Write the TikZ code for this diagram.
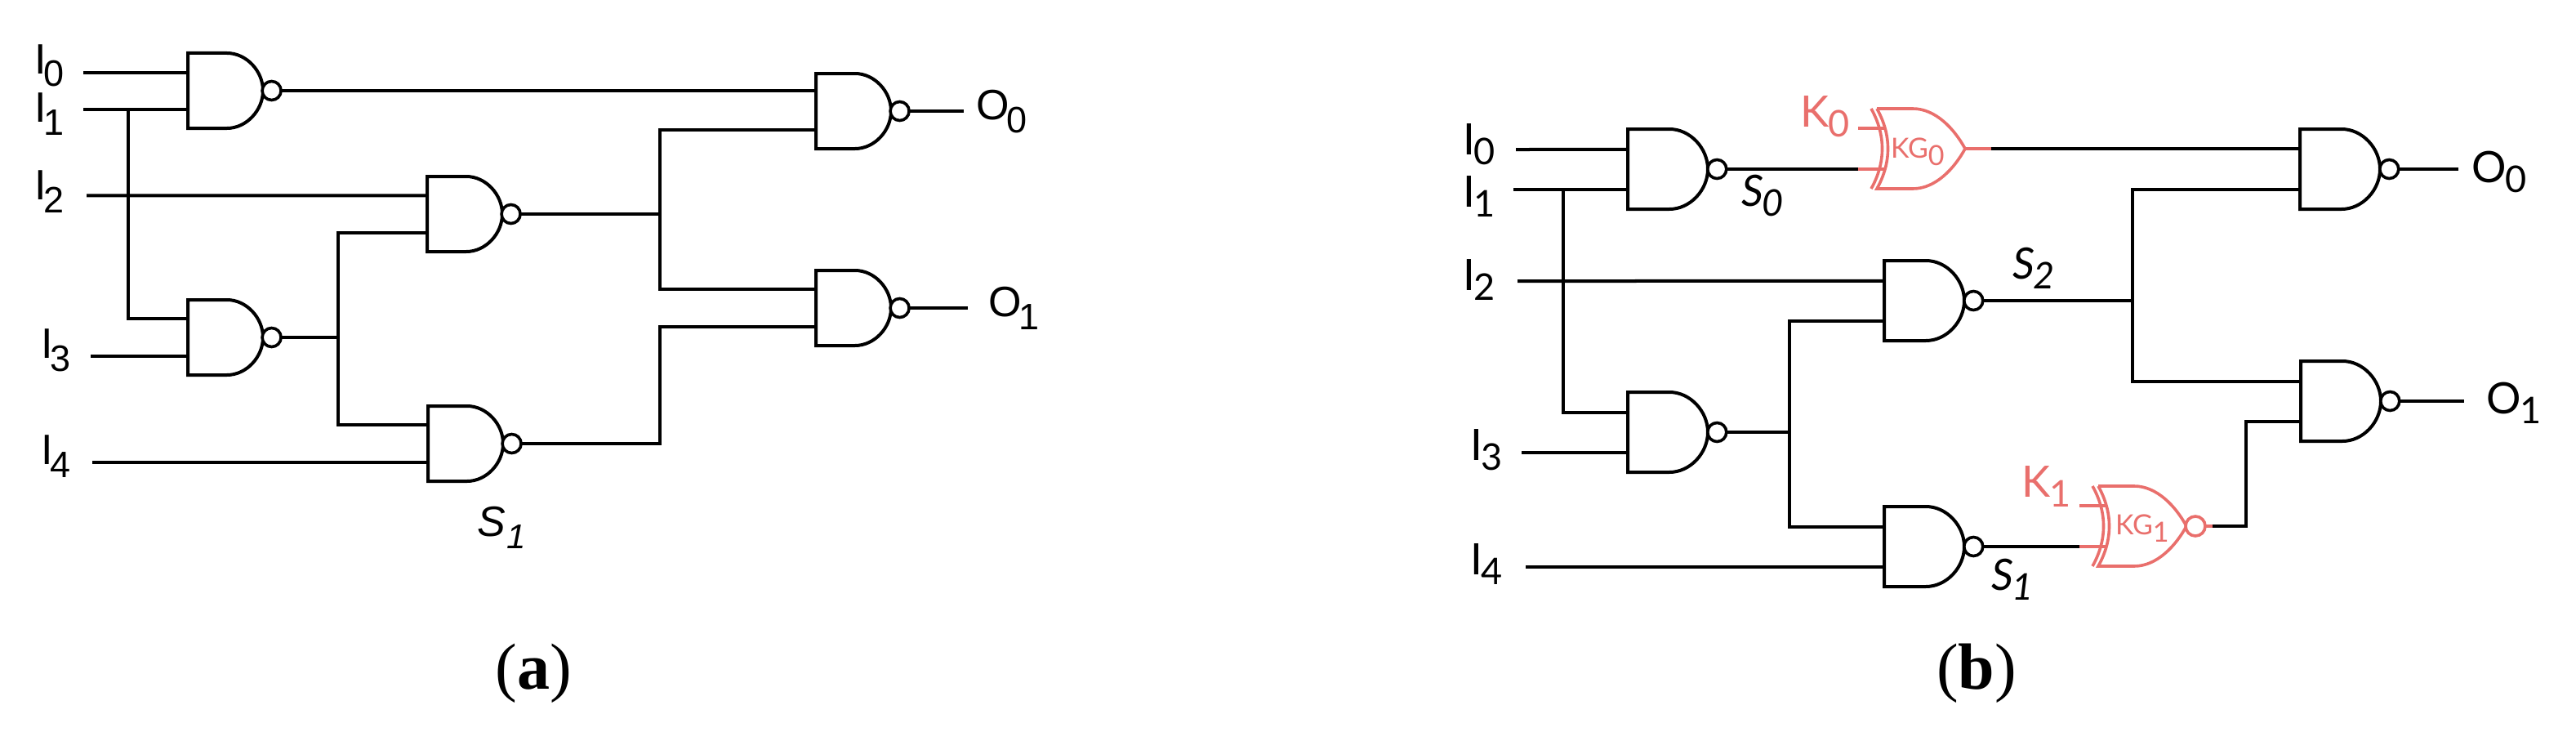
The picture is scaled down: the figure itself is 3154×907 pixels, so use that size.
\documentclass[tikz,border=0pt]{standalone}
\usepackage{fontspec}
\setmainfont{Liberation Sans}
\newfontfamily\carl{Lato}
\newfontfamily\capf{Liberation Serif}
\definecolor{keyred}{HTML}{E96F6C}
% text with lowered subscript: base, sub, sub size, drop, kern
\newcommand{\lsub}[5]{#1\kern#5pt\raisebox{-#4pt}{\fontsize{#3}{#3}\selectfont #2}}
\newcommand{\lsa}[2]{\lsub{#1}{#2}{45}{16}{-3}}
\newcommand{\lsb}[2]{\lsub{#1}{#2}{45}{12.5}{-1}}
\newcommand{\lskg}[2]{\lsub{#1}{#2}{34}{9}{0}}
% NAND gate: name, left, top, height
\newcommand{\nandgate}[4]{%
  \begin{scope}[shift={(#2,#3)},x=#4pt,y=-#4pt]
    \draw[gate] (0,0) -- (0.52,0) .. controls (0.78,0) and (1,0.24) .. (1,0.5)
      .. controls (1,0.76) and (0.78,1) .. (0.52,1) -- (0,1) -- cycle;
    \coordinate (#1-a) at (0,0.255);
    \coordinate (#1-b) at (0,0.75);
    \node[bubble] (#1-n) at (1.115,0.5) {};
  \end{scope}}
% XOR body: name, left, top, colour stays keyred
\newcommand{\xorbody}[3]{%
  \begin{scope}[shift={(#2,#3)}]
    \draw[kgate] (0,0) -- (44,0) .. controls (72,0) and (95,25) .. (108,49)
      .. controls (95,73) and (72,98) .. (44,98) -- (0,98)
      .. controls (18,66) and (18,32) .. (0,0);
    \draw[kgate] (-7,0) .. controls (11,32) and (11,66) .. (-7,98);
    \coordinate (#1-ka) at (-23,24);
    \coordinate (#1-kb) at (-23,74);
    \coordinate (#1-a) at (10,24);
    \coordinate (#1-b) at (10,74);
    \coordinate (#1-o) at (108,49);
    \coordinate (#1-e) at (140,49);
  \end{scope}}
\tikzset{
  gate/.style={line width=4pt,black,miter limit=10},
  wire/.style={line width=4pt,black},
  kgate/.style={line width=3.6pt,keyred},
  kwire/.style={line width=3.6pt,keyred},
  bubble/.style={circle,draw=black,fill=white,line width=3.6pt,minimum size=23pt,inner sep=0pt,outer sep=0pt},
  kbubble/.style={circle,draw=keyred,fill=white,line width=3.6pt,minimum size=24pt,inner sep=0pt,outer sep=0pt},
  lbla/.style={anchor=base west,inner sep=0pt,outer sep=0pt,font=\fontsize{52}{52}\selectfont},
  lblb/.style={anchor=base west,inner sep=0pt,outer sep=0pt,font=\carl\fontsize{53}{53}\selectfont},
  lblk/.style={lblb,text=keyred},
  lblg/.style={anchor=base west,inner sep=0pt,outer sep=0pt,text=keyred,font=\carl\fontsize{34}{34}\selectfont},
  capt/.style={anchor=base,inner sep=0pt,outer sep=0pt,font=\capf\fontsize{80}{80}\selectfont},
}
\begin{document}
\begin{tikzpicture}[x=1pt,y=-1pt]
\useasboundingbox (0,0) rectangle (3154,907);
\fill[white] (0,0) rectangle (3154,907);

% ---------- panel (a)
\nandgate{g0}{230}{65}{92}
\nandgate{g2}{523}{216}{92}
\nandgate{g1}{230}{367}{92}
\nandgate{g3}{524}{497}{92}
\nandgate{o0}{999}{90}{92}
\nandgate{o1}{999}{331}{92}

\coordinate (i0) at (102,89);
\coordinate (i1) at (102,134);
\coordinate (i2) at (106,239.46);
\coordinate (i3) at (111,436);
\coordinate (i4) at (113,566);
\coordinate (jb) at (157,134);
\coordinate (jc) at (414,413);
\coordinate (jd) at (808,262);
\coordinate (je) at (808,543);
\coordinate (o0e) at (1180,136);
\coordinate (o1e) at (1185,377);

\draw[wire] (i0) -- (g0-a |- i0);
\draw[wire] (i1) -- (g0-b);
\draw[wire] (i2) -- (g2-a);
\draw[wire] (i3) -- (g1-b);
\draw[wire] (i4) -- (g3-b);
\draw[wire] (jb) |- (g1-a);
\draw[wire] (g0-n.east) -- (g0-n.east -| o0-a);
\draw[wire] (g1-n.east) -- (jc);
\draw[wire] (g2-b) -| (jc) |- (g3-a);
\draw[wire] (g2-n.east) -- (jd);
\draw[wire] (o0-b) -| (jd) |- (o1-a);
\draw[wire] (g3-n.east) -- (je) |- (o1-b);
\draw[wire] (o0-n.east) -- (o0e);
\draw[wire] (o1-n.east) -- (o1e);

\node[lbla] (li0) at (42,90) {\lsa{I}{0}};
\node[lbla] (li1) at (42,149) {\lsa{I}{1}};
\node[lbla] (li2) at (42,244) {\lsa{I}{2}};
\node[lbla] (li3) at (50,438) {\lsa{I}{3}};
\node[lbla] (li4) at (50,568) {\lsa{I}{4}};
\node[lbla] (lo0) at (1195,146) {\lsa{O}{0}};
\node[lbla] (lo1) at (1210,387) {\lsa{O}{1}};
\node[lbla,font=\itshape\fontsize{52}{52}\selectfont] (ls1) at (584,656) {\lsub{S}{1}{42}{15}{2}};
\node[capt] (capa) at (653,843) {(\textbf{a})};

% ---------- panel (b)
\nandgate{bg0}{1993}{158}{98}
\nandgate{bg2}{2307}{319}{98}
\nandgate{bg1}{1993}{480}{98}
\nandgate{bg3}{2307}{620}{98}
\nandgate{bo0}{2816}{158}{98}
\nandgate{bo1}{2817}{442}{98}
\xorbody{kx0}{2298}{133}
\xorbody{kx1}{2569}{595}
\node[kbubble] (kx1-n) at (2688,644) {};

\coordinate (bi0) at (1856,183);
\coordinate (bi1) at (1853,231.5);
\coordinate (bi2) at (1858,344);
\coordinate (bi3) at (1863,553.5);
\coordinate (bi4) at (1868,693.5);
\coordinate (bjb) at (1914,231.5);
\coordinate (bjc) at (2191,529);
\coordinate (bjd) at (2611,368);
\coordinate (bjf) at (2750,644);
\coordinate (bo0e) at (3010,207);
\coordinate (bo1e) at (3017,491);

\draw[wire] (bi0) -- (bg0-a);
\draw[wire] (bi1) -- (bg0-b);
\draw[wire] (bi2) -- (bg2-a);
\draw[wire] (bi3) -- (bg1-b);
\draw[wire] (bi4) -- (bg3-b);
\draw[wire] (bjb) |- (bg1-a);
\draw[wire] (bg1-n.east) -- (bjc);
\draw[wire] (bg2-b) -| (bjc) |- (bg3-a);
\draw[wire] (bg2-n.east) -- (bjd);
\draw[wire] (bo0-b) -| (bjd) |- (bo1-a);
\draw[wire] (bg0-n.east) -- (kx0-kb);
\draw[wire] (bg3-n.east) -- (kx1-kb);
\draw[kwire] (kx0-ka) -- (kx0-a);
\draw[kwire] (kx0-kb) -- (kx0-b);
\draw[kwire] (kx1-ka) -- (kx1-a);
\draw[kwire] (kx1-kb) -- (kx1-b);
\draw[kwire] (kx0-o) -- (kx0-e);
\draw[wire] (kx0-e) -- (kx0-e -| bo0-a);
\draw[kwire] (kx1-n.east) -- (kx1-e);
\draw[wire] (kx1-e) -- (bjf) |- (bo1-b);
\draw[wire] (bo0-n.east) -- (bo0e);
\draw[wire] (bo1-n.east) -- (bo1e);

\node[lblb] (bli0) at (1791,189) {\lsb{I}{0}};
\node[lblb] (bli1) at (1791,253) {\lsb{I}{1}};
\node[lblb] (bli2) at (1791,355) {\lsb{I}{2}};
\node[lblb] (bli3) at (1800,563) {\lsb{I}{3}};
\node[lblb] (bli4) at (1800,703) {\lsb{I}{4}};
\node[lblb] (blo0) at (3026,223) {\lsb{O}{0}};
\node[lblb] (blo1) at (3044,506) {\lsb{O}{1}};
\node[lblb,font=\carl\itshape\fontsize{53}{53}\selectfont] (bls0) at (2132,252) {\lsb{S}{0}};
\node[lblb,font=\carl\itshape\fontsize{53}{53}\selectfont] (bls2) at (2464,341) {\lsb{S}{2}};
\node[lblb,font=\carl\itshape\fontsize{53}{53}\selectfont] (bls1) at (2438,722) {\lsb{S}{1}};
\node[lblk] (lk0) at (2204,155) {\lsb{K}{0}};
\node[lblk] (lk1) at (2475,608) {\lsb{K}{1}};
\node[lblg] (lkg0) at (2315,193) {\lskg{KG}{0}};
\node[lblg] (lkg1) at (2590,654) {\lskg{KG}{1}};
\node[capt] (capb) at (2420,843) {(\textbf{b})};
\end{tikzpicture}
\end{document}
